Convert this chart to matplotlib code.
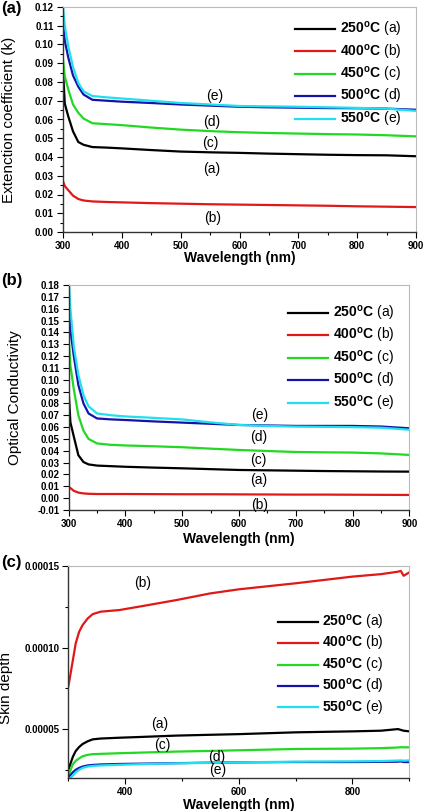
import matplotlib
matplotlib.use('Agg')
import matplotlib.pyplot as plt
from matplotlib.ticker import MultipleLocator, FormatStrFormatter

plt.rcParams['font.family'] = ['Liberation Sans', 'DejaVu Sans']
plt.rcParams['mathtext.fontset'] = 'custom'
plt.rcParams['mathtext.rm'] = 'Liberation Sans'
plt.rcParams['mathtext.bf'] = 'Liberation Sans:bold'

# legend / series
temps = ['250', '400', '450', '500', '550']
tags = ['a', 'b', 'c', 'd', 'e']
colors = ['#000000', '#e01818', '#22d822', '#1414a8', '#20e0f0']

# (a) extinction coefficient
wl = [300, 303, 309, 317, 326, 335, 350, 375, 400, 450, 500, 550, 600, 650, 700, 750, 800, 850, 900]
k_a = [0.0865, 0.0685, 0.0616, 0.0537, 0.048, 0.0465, 0.0453, 0.0450, 0.0446, 0.0437, 0.0429, 0.0425,
       0.0422, 0.0418, 0.0415, 0.0412, 0.0410, 0.0409, 0.0404]
k_b = [0.027, 0.0245, 0.0223, 0.0194, 0.0176, 0.0168, 0.0163, 0.0160, 0.0158, 0.0154, 0.0151, 0.0148,
       0.0146, 0.0144, 0.0142, 0.0140, 0.0137, 0.0135, 0.0133]
k_c = [0.092, 0.083, 0.076, 0.068, 0.0636, 0.0605, 0.058, 0.0575, 0.057, 0.0557, 0.0546, 0.0538,
       0.0532, 0.0528, 0.0525, 0.0522, 0.0520, 0.0516, 0.0510]
k_d = [0.1115, 0.102, 0.093, 0.0835, 0.0775, 0.0733, 0.0705, 0.0700, 0.0695, 0.0688, 0.0680, 0.0674,
       0.0668, 0.0665, 0.0663, 0.0661, 0.0660, 0.0658, 0.0652]
k_e = [0.120, 0.110, 0.099, 0.088, 0.0795, 0.0750, 0.0725, 0.0718, 0.0712, 0.0700, 0.0688, 0.0680,
       0.0672, 0.0670, 0.0668, 0.0665, 0.0662, 0.0658, 0.0646]

# (b) optical conductivity
s_a = [0.090, 0.064, 0.052, 0.0363, 0.0305, 0.0285, 0.0275, 0.027, 0.0265, 0.0258, 0.0252, 0.0245,
       0.0238, 0.0235, 0.0232, 0.0229, 0.0227, 0.0225, 0.0224]
s_b = [0.0097, 0.0085, 0.0062, 0.0047, 0.0040, 0.0037, 0.0035, 0.0035, 0.0035, 0.0034, 0.0033, 0.0033,
       0.0032, 0.0031, 0.0030, 0.0030, 0.0029, 0.0028, 0.0027]
s_c = [0.135, 0.112, 0.092, 0.070, 0.057, 0.050, 0.0462, 0.0450, 0.0445, 0.0438, 0.0430, 0.0418,
       0.0407, 0.0398, 0.0390, 0.0387, 0.0385, 0.0378, 0.0365]
s_d = [0.165, 0.142, 0.120, 0.0955, 0.080, 0.0715, 0.0673, 0.0665, 0.0660, 0.0648, 0.0638, 0.0628,
       0.0618, 0.0614, 0.0610, 0.0610, 0.0610, 0.0605, 0.0590]
s_e = [0.185, 0.160, 0.128, 0.104, 0.087, 0.0775, 0.0715, 0.0700, 0.0690, 0.0678, 0.0665, 0.0640,
       0.0618, 0.0610, 0.0604, 0.0602, 0.0600, 0.0595, 0.0578]

# (c) skin depth
wl_c = [300, 302, 308, 313, 319, 325, 334, 343, 357, 390, 430, 490, 550, 600, 700, 800, 850, 880, 885, 890, 900]
d_a = [2.51e-5, 2.7e-5, 3.3e-5, 3.65e-5, 3.9e-5, 4.08e-5, 4.25e-5, 4.37e-5, 4.42e-5, 4.47e-5, 4.52e-5,
       4.6e-5, 4.65e-5, 4.69e-5, 4.8e-5, 4.86e-5, 4.9e-5, 5.0e-5, 4.95e-5, 4.9e-5, 4.86e-5]
d_b = [7.61e-5, 7.99e-5, 9.22e-5, 1.025e-4, 1.096e-4, 1.137e-4, 1.178e-4, 1.205e-4, 1.22e-4, 1.23e-4,
       1.254e-4, 1.291e-4, 1.332e-4, 1.357e-4, 1.394e-4, 1.435e-4, 1.45e-4, 1.465e-4, 1.47e-4, 1.44e-4, 1.461e-4]
d_c = [2.1e-5, 2.3e-5, 2.85e-5, 3.05e-5, 3.2e-5, 3.33e-5, 3.42e-5, 3.46e-5, 3.48e-5, 3.52e-5, 3.56e-5,
       3.62e-5, 3.66e-5, 3.7e-5, 3.78e-5, 3.8e-5, 3.83e-5, 3.87e-5, 3.89e-5, 3.88e-5, 3.88e-5]
d_d = [1.95e-5, 2.1e-5, 2.35e-5, 2.5e-5, 2.62e-5, 2.7e-5, 2.77e-5, 2.8e-5, 2.83e-5, 2.86e-5, 2.88e-5,
       2.91e-5, 2.94e-5, 2.96e-5, 2.98e-5, 2.98e-5, 2.99e-5, 3.0e-5, 3.02e-5, 2.98e-5, 2.98e-5]
d_e = [1.8e-5, 1.95e-5, 2.15e-5, 2.35e-5, 2.5e-5, 2.62e-5, 2.7e-5, 2.74e-5, 2.77e-5, 2.81e-5, 2.85e-5,
       2.9e-5, 2.93e-5, 2.96e-5, 3.0e-5, 3.02e-5, 3.04e-5, 3.07e-5, 3.08e-5, 3.06e-5, 3.08e-5]

labels = [r'$\mathbf{%s^{o}C}$ (%s)' % (t, g) for t, g in zip(temps, tags)]

fig = plt.figure(figsize=(4.25, 8.11), dpi=100)
W, H = 425.0, 811.0


def make_ax(left, right, top, bottom):
    return fig.add_axes([left / W, 1 - bottom / H, (right - left) / W, (bottom - top) / H])


def style(ax):
    for s in ['left', 'bottom']:
        ax.spines[s].set_color('#333333')
        ax.spines[s].set_linewidth(1.0)
    for s in ['top', 'right']:
        ax.spines[s].set_color('#bbbbbb')
        ax.spines[s].set_linewidth(0.8)
    ax.tick_params(which='both', direction='out', top=False, right=False, labelsize=7, width=0.8, pad=2.5)
    ax.tick_params(which='major', length=4)
    ax.tick_params(which='minor', length=2.5)
    for lab in ax.get_xticklabels() + ax.get_yticklabels():
        lab.set_fontweight('bold')


narrow = ['Liberation Sans Narrow', 'Liberation Sans']

# ---- (a)
ax1 = make_ax(63, 416, 7, 232)
for ys, c, lab in zip([k_a, k_b, k_c, k_d, k_e], colors, labels):
    ax1.plot(wl, ys, color=c, lw=1.6, label=lab)
ax1.set_xlim(300, 900)
ax1.set_ylim(0, 0.12)
ax1.xaxis.set_major_locator(MultipleLocator(100))
ax1.xaxis.set_minor_locator(MultipleLocator(50))
ax1.yaxis.set_major_locator(MultipleLocator(0.01))
ax1.yaxis.set_minor_locator(MultipleLocator(0.005))
ax1.yaxis.set_major_formatter(FormatStrFormatter('%.2f'))
style(ax1)
ax1.set_xlabel('Wavelength (nm)', fontsize=10, fontweight='bold')
ax1.xaxis.set_label_coords(0.5, -0.086)
ax1.set_ylabel('Extenction coefficient (k)', fontsize=11, family=narrow)
ax1.yaxis.set_label_coords(-0.133, 0.5)
ax1.legend(loc='upper left', bbox_to_anchor=(0.657, 0.942), frameon=False, fontsize=10,
           borderpad=0, borderaxespad=0, handlelength=2.9, handletextpad=0.35, labelspacing=0.25)
for tx, ty, t in [(558, 0.0725, '(e)'), (553, 0.0587, '(d)'), (550, 0.0475, '(c)'),
                  (553, 0.0336, '(a)'), (555, 0.0075, '(b)')]:
    ax1.text(tx, ty, t, fontsize=10, ha='center', va='center')

# ---- (b)
ax2 = make_ax(68.7, 409.3, 285, 510)
for ys, c, lab in zip([s_a, s_b, s_c, s_d, s_e], colors, labels):
    ax2.plot(wl, ys, color=c, lw=1.6, label=lab)
ax2.set_xlim(300, 900)
ax2.set_ylim(-0.01, 0.18)
ax2.xaxis.set_major_locator(MultipleLocator(100))
ax2.xaxis.set_minor_locator(MultipleLocator(50))
ax2.yaxis.set_major_locator(MultipleLocator(0.01))
ax2.yaxis.set_major_formatter(FormatStrFormatter('%.2f'))
style(ax2)
ax2.set_xlabel('Wavelength (nm)', fontsize=10, fontweight='bold')
ax2.xaxis.set_label_coords(0.5, -0.098)
ax2.set_ylabel('Optical Conductivity', fontsize=11, family=narrow)
ax2.yaxis.set_label_coords(-0.137, 0.5)
ax2.legend(loc='upper left', bbox_to_anchor=(0.644, 0.916), frameon=False, fontsize=10,
           borderpad=0, borderaxespad=0, handlelength=2.9, handletextpad=0.35, labelspacing=0.25)
for tx, ty, t in [(636, 0.0704, '(e)'), (634, 0.0513, '(d)'), (634, 0.0322, '(c)'),
                  (634, 0.0153, '(a)'), (636, -0.0058, '(b)')]:
    ax2.text(tx, ty, t, fontsize=10, ha='center', va='center')

# ---- (c)
ax3 = make_ax(68.3, 409.3, 566, 778)
for ys, c, lab in zip([d_a, d_b, d_c, d_d, d_e], colors, labels):
    ax3.plot(wl_c, ys, color=c, lw=1.6, label=lab)
ax3.set_xlim(300, 900)
ax3.set_ylim(0.00002, 0.00015)
ax3.xaxis.set_major_locator(MultipleLocator(200))
ax3.xaxis.set_minor_locator(MultipleLocator(100))
ax3.yaxis.set_major_locator(MultipleLocator(0.00005))
ax3.yaxis.set_minor_locator(MultipleLocator(0.000025))
ax3.yaxis.set_major_formatter(FormatStrFormatter('%.5f'))
style(ax3)
ax3.set_xlabel('Wavelength (nm)', fontsize=10, fontweight='bold')
ax3.xaxis.set_label_coords(0.5, -0.094)
ax3.set_ylabel('Skin depth', fontsize=11, family=narrow)
ax3.yaxis.set_label_coords(-0.162, 0.425)
ax3.legend(loc='upper left', bbox_to_anchor=(0.615, 0.778), frameon=False, fontsize=10,
           borderpad=0, borderaxespad=0, handlelength=2.9, handletextpad=0.3, labelspacing=0.17)
for tx, ty, t in [(430, 0.0001396, '(b)'), (461, 0.0000533, '(a)'), (465, 0.0000405, '(c)'),
                  (561, 0.0000331, '(d)'), (563, 0.0000252, '(e)')]:
    ax3.text(tx, ty, t, fontsize=10, ha='center', va='center')

# panel letters
for y, t in [(8, '(a)'), (280, '(b)'), (563, '(c)')]:
    fig.text(1 / W, 1 - y / H, t, fontsize=12, fontweight='bold', ha='left', va='center')

fig.savefig('out.png', dpi=100)
